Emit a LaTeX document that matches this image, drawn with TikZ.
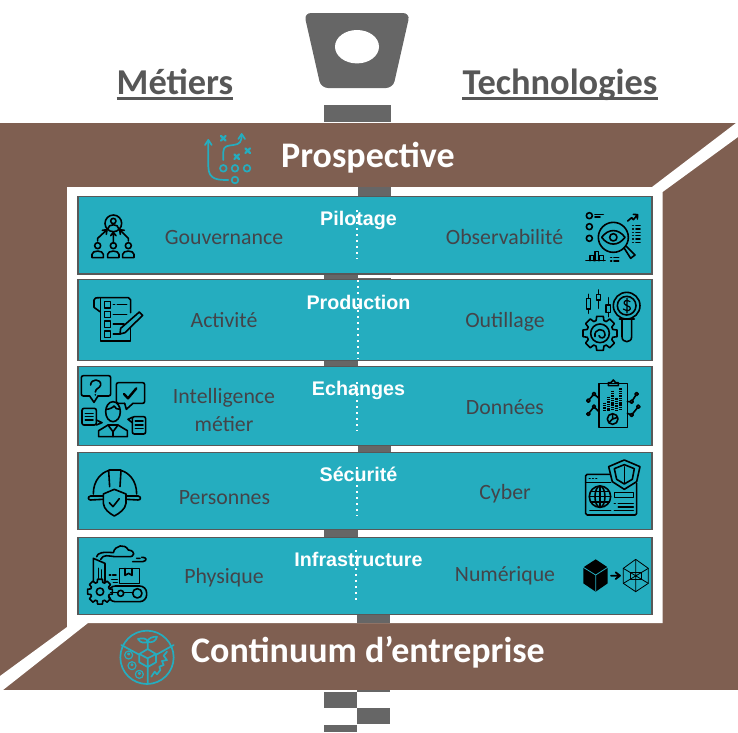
\documentclass[tikz,border=0pt]{standalone}
\usepackage{fontspec}
\setmainfont{Carlito}
\newfontfamily\headfont{Liberation Sans}
\definecolor{mybrown}{HTML}{7F5F51}
\definecolor{myteal}{HTML}{25ADBF}
\definecolor{mygrey}{HTML}{666666}
\definecolor{myedge}{HTML}{585858}
\definecolor{mytext}{HTML}{444449}
\tikzset{bar/.style={fill=mygrey}}
\tikzset{band/.style args={#1}{draw=myedge, line width=1.4pt, fill=myteal, minimum width=574pt, minimum height=#1pt, inner sep=0pt}}
\tikzset{dots/.style={white, line width=1.2pt, dash pattern=on 1.5pt off 4.5pt}}
\tikzset{side/.style={anchor=base, inner sep=0pt, text=mytext, font=\fontsize{21.8}{24}\selectfont}}
\tikzset{layer/.style={anchor=base, inner sep=0pt, text=white, font=\headfont\bfseries\fontsize{19.7}{22}\selectfont}}
\tikzset{axis/.style={anchor=base, inner sep=0pt, text=mygrey!85!black, font=\bfseries\fontsize{36.4}{40}\selectfont}}
\tikzset{banner/.style={anchor=base, inner sep=0pt, text=white, font=\bfseries\fontsize{36}{40}\selectfont}}
\tikzset{rulebar/.style={mygrey!85!black, line width=3pt}}
\tikzset{ink/.style={black, line width=1.6pt, line cap=round, line join=round}}
\tikzset{tealink/.style={myteal, line width=1.7pt, line cap=round, line join=round}}
% outline of a cog wheel: x, y, outer radius, root radius
\newcommand{\cogwheel}[4]{\draw[ink, shift={(#1,#2)}] (-11:#3) \foreach \a in {0,45,...,315} {-- ({\a-11}:#3) -- ({\a+11}:#3) -- ({\a+17}:#4) -- ({\a+28}:#4)} -- cycle;}

\begin{document}
\begin{tikzpicture}[x=1pt,y=-1pt]
\useasboundingbox (0,0) rectangle (738,732);
% frame
\fill[mybrown] (0,123) rectangle (738,690);
\fill[white] (67,187) -- (652,187) -- (736,123) -- (738,123) -- (738,137) -- (662.6,192) -- (662.6,623) -- (88,623) -- (3,690) -- (0,690) -- (0,676) -- (67,627) -- cycle;
% lamp and its broken beam
\fill[mygrey, rounded corners=7pt] (304,13) -- (410,13) -- (393,88) -- (321,88) -- cycle;
\fill[white] (357,46.7) ellipse [x radius=22pt, y radius=16.7pt];
\fill[bar] (324,105) rectangle (391,122);
\fill[bar] (358,187) rectangle (391,197);
\fill[bar] (324,274) rectangle (358,280);
\fill[bar] (358,277.5) rectangle (391,280);
\fill[bar] (324,360) rectangle (358,367);
\fill[bar] (358,445) rectangle (391,453);
\fill[bar] (324,529) rectangle (358,538);
\fill[bar] (357,614) rectangle (390,623);
\fill[bar] (357,690) rectangle (390,692);
\fill[bar] (324,692) rectangle (356.5,708);
\fill[bar] (357,708) rectangle (390,724);
\fill[bar] (324,725) rectangle (356.5,732);
% layers
\node[band={77.3}] (pilotage) at (365,235.3) {};
\node[band={81.4}] (production) at (365,320) {};
\node[band={78.6}] (echanges) at (365,406) {};
\node[band={76.6}] (securite) at (365,491) {};
\node[band={77}] (infra) at (365,575.8) {};
\draw[dots] (357,210) -- (357,259);
\draw[dots] (358,280) -- (358,359);
\draw[dots] (357,382) -- (357,431);
\draw[dots] (357,467) -- (357,516);
\draw[dots] (356,550) -- (356,601);
% texts
\node[axis] (metiers) at (175,94) {Métiers};
\node[axis] (techno) at (560,94) {Technologies};
\draw[rulebar] ([yshift=-4pt]metiers.base west) -- ([yshift=-4pt]metiers.base east);
\draw[rulebar] ([yshift=-4pt]techno.base west) -- ([yshift=-4pt]techno.base east);
\node[banner] (prospective) at (368,167) {Prospective};
\node[banner] (continuum) at (368,662) {Continuum d’entreprise};
\node[layer] (tpilotage) at (358.5,225.5) {Pilotage};
\node[layer] (tproduction) at (358.5,309.5) {Production};
\node[layer] (techanges) at (358.5,395.5) {Echanges};
\node[layer] (tsecurite) at (358.5,481.5) {Sécurité};
\node[layer] (tinfra) at (358.5,566.5) {Infrastructure};
\node[side] (gouv) at (224,244) {Gouvernance};
\node[side] (obs) at (504.5,244) {Observabilité};
\node[side] (activite) at (224,327) {Activité};
\node[side] (outillage) at (505,327) {Outillage};
\node[side] (intel) at (224,403) {Intelligence};
\node[side] (metier) at (224,431) {métier};
\node[side] (donnees) at (505,414) {Données};
\node[side] (personnes) at (224.5,504) {Personnes};
\node[side] (cyber) at (505,499.5) {Cyber};
\node[side] (physique) at (224,583.5) {Physique};
\node[side] (numerique) at (505,581) {Numérique};
% icon: play
\begin{scope}[shift={(195,125)},scale=0.3333]
\draw[tealink] (100,165) .. controls (70,165) and (40,165) .. (40,125) -- (40,45);
\draw[tealink] (30,60) -- (40,45) -- (50,60);
\draw[tealink] (85,105) -- (85,80) .. controls (85,62) and (100,62) .. (115,60) .. controls (135,58) and (140,50) .. (140,28);
\draw[tealink] (130,42) -- (140,27) -- (150,42);
\foreach \px/\py in {85/40,125/95,158/77} {
\draw[tealink, line width=2.2pt] (\px-7,\py-7) -- (\px+7,\py+7) (\px-7,\py+7) -- (\px+7,\py-7);
}
\foreach \px/\py in {85/130,120/130,156/130,120/165} {
\draw[tealink] (\px,\py) circle [radius=10pt];
}
\end{scope}
% icon: governance
\begin{scope}[shift={(85,205)},scale=0.3333]
\draw[ink] (85,55) circle [radius=25pt];
\draw[ink] (85,48) circle [radius=8pt];
\draw[ink] (68,72) .. controls (70,55) and (100,55) .. (102,72);
\draw[ink] (38,108) -- (38,100) -- (65,75) (52,76) -- (66,74) -- (64,88);
\draw[ink] (85,115) -- (85,82) (77,92) -- (85,82) -- (93,92);
\draw[ink] (130,108) -- (130,100) -- (105,75) (118,76) -- (104,74) -- (106,88);
\foreach \px in {38,85,130} {
\draw[ink] (\px,122) circle [radius=9pt];
\draw[ink] (\px-17,158) -- (\px-17,148) .. controls (\px-17,135) and (\px+17,135) .. (\px+17,148) -- (\px+17,158) -- cycle;
}
\end{scope}
% icon: observability
\begin{scope}[shift={(580,205)},scale=0.3333]
\foreach \py in {32,65,100} {
\draw[ink] (28,\py) circle [radius=9pt];
}
\draw[ink] (45,28) -- (70,28) (45,36) -- (60,36);
\draw[ink] (143,48) -- (155,38) -- (160,44) -- (172,30) (160,28) -- (173,29) -- (172,42);
\foreach \py in {62,72,82,92,102,112} {
\draw[ink] (158,\py) -- (160,\py) (168,\py) -- (180,\py);
}
\draw[ink] (100,97) circle [radius=45pt];
\draw[ink] (65,97) .. controls (85,70) and (115,70) .. (135,97) .. controls (115,124) and (85,124) .. cycle;
\draw[ink] (100,97) circle [radius=11pt];
\draw[ink] (133,130) -- (152,160) -- (165,150) -- (140,125);
\draw[ink] (18,167) -- (75,167) (30,167) -- (30,152) -- (42,152) -- (42,167) (45,167) -- (45,140) -- (56,140) -- (56,167) (58,167) -- (58,152) -- (70,152) -- (70,167);
\draw[ink] (92,158) -- (95,158) (102,158) -- (116,158) (92,168) -- (95,168) (102,168) -- (116,168);
\end{scope}
% icon: checklist
\begin{scope}[shift={(0,270)},scale=0.3333]
\draw[ink] (300,125) -- (282,112) -- (282,90) .. controls (282,84) and (288,83) .. (300,83) -- (385,83) -- (392,90) -- (392,128);
\draw[ink] (302,85) -- (302,213) -- (392,213) -- (392,172);
\foreach \py in {95,124,153,183} {
\draw[ink] (314,\py) rectangle (332,\py+19);
}
\draw[ink] (340,104) -- (344,104) (352,104) -- (380,104) (340,133) -- (380,133) (340,162) -- (372,162) (340,192) -- (360,192);
\draw[ink] (362,175) -- (418,126) -- (428,136) -- (375,188) -- (360,192) -- cycle;
\end{scope}
% icon: tools
\begin{scope}[shift={(575,285)},scale=0.3333]
\draw[ink] (40,28) -- (40,40) (40,72) -- (40,85) (34,40) rectangle (46,72);
\draw[ink] (70,15) -- (70,28) (70,45) -- (70,70) (64,28) rectangle (76,45);
\draw[ink] (100,38) -- (100,60) (100,82) -- (100,95) (93,60) rectangle (106,82);
\draw[ink] (155,62) circle [radius=40pt];
\draw[ink] (155,62) circle [radius=28pt];
\draw[ink, line width=1.2pt] (165,50) .. controls (155,42) and (145,48) .. (148,56) .. controls (152,64) and (168,62) .. (166,72) .. controls (162,80) and (150,78) .. (145,72) (156,40) -- (156,84);
\draw[ink] (133,102) -- (178,102) (141,102) -- (141,155) .. controls (141,175) and (170,175) .. (170,155) -- (170,102);
\cogwheel{75}{145}{52}{40}
\draw[ink] (75,145) circle [radius=28pt];
\draw[ink] (60,155) .. controls (55,130) and (90,125) .. (90,150) .. controls (90,160) and (75,162) .. (72,152);
\end{scope}
% icon: intelligence
\begin{scope}[shift={(78,370)},scale=0.3333]
\draw[ink, rounded corners=2pt] (35,78) -- (10,78) -- (10,17) -- (98,17) -- (98,78) -- (60,78);
\draw[ink] (35,78) -- (48,97) -- (60,78);
\draw[ink] (38,45) .. controls (38,25) and (70,25) .. (68,45) .. controls (66,55) and (52,55) .. (52,66) (52,74) -- (52,75);
\draw[ink, rounded corners=2pt] (140,100) -- (115,100) -- (115,38) -- (200,38) -- (200,100) -- (165,100);
\draw[ink] (140,100) -- (145,118) -- (165,100);
\draw[ink, line width=2.4pt] (138,72) -- (150,85) -- (175,55);
\draw[ink, rounded corners=2pt] (12,115) rectangle (55,165);
\draw[ink] (55,150) -- (72,158) -- (55,165);
\draw[ink] (22,130) -- (45,130) (22,140) -- (45,140) (22,150) -- (45,150);
\draw[ink, rounded corners=2pt] (163,140) rectangle (203,192);
\draw[ink] (163,142) -- (150,148) -- (163,158);
\draw[ink] (172,153) -- (195,153) (172,165) -- (195,165) (172,176) -- (195,176);
\draw[ink, fill=myteal] (105,125) ellipse [x radius=22pt, y radius=30pt];
\draw[ink] (84,118) .. controls (95,118) and (105,112) .. (108,108) .. controls (112,116) and (118,118) .. (126,118);
\draw[ink, fill=myteal] (62,200) -- (62,182) -- (90,165) -- (120,165) -- (148,182) -- (148,200) -- cycle;
\draw[ink] (90,165) -- (105,185) -- (120,165) (105,185) -- (105,200);
\end{scope}
% icon: data
\begin{scope}[shift={(370,270)},scale=0.3333]
\draw[ink] (687,340) rectangle (772,472);
\draw[ink] (715,347) -- (715,338) -- (723,338) -- (730,330) -- (737,338) -- (745,338) -- (745,347) -- cycle;
\foreach \px/\py in {703/398,715/380,727/362,739/385,751/355} {
\draw[ink, line width=2.4pt, line cap=butt, dash pattern=on 1.4pt off 0.9pt] (\px,\py) -- (\px,423);
}
\draw[ink] (728,447) circle [radius=16pt];
\draw[ink] (728,447) -- (728,432) (728,447) -- (743,442) (728,447) -- (716,458);
\draw[ink] (687,385) -- (672,372) -- (655,392) (687,425) -- (672,410) -- (655,432);
\draw[ink] (772,395) -- (785,395) -- (800,372) (772,430) -- (785,435) -- (805,410);
\foreach \px/\py in {672/372,655/392,672/410,655/432,785/395,800/372,785/435,805/410} {
\draw[ink, fill=myteal] (\px,\py) circle [radius=5pt];
}
\end{scope}
% icon: safety
\begin{scope}[shift={(0,270)},scale=0.3333]
\draw[ink] (280,672) .. controls (280,630) and (305,608) .. (325,602) -- (328,600) -- (362,600) -- (365,602) .. controls (385,608) and (410,630) .. (410,672);
\draw[ink] (326,602) -- (329,650) (363,602) -- (360,650);
\draw[ink] (310,678) -- (272,678) .. controls (262,680) and (264,690) .. (272,690) -- (308,688);
\draw[ink] (378,678) -- (414,678) .. controls (424,680) and (424,690) .. (414,690) -- (378,688);
\draw[ink] (343,658) -- (378,672) -- (378,700) .. controls (376,718) and (358,730) .. (343,738) .. controls (328,730) and (312,718) .. (310,700) -- (310,672) -- cycle;
\draw[ink] (328,698) -- (339,710) -- (358,686);
\end{scope}
% icon: cyber
\begin{scope}[shift={(370,270)},scale=0.3333]
\draw[ink, rounded corners=1.5pt] (722,613) -- (647,613) -- (647,735) -- (800,735) -- (800,640);
\draw[ink] (647,637) -- (722,637);
\draw[ink] (658,625) -- (660,625) (668,625) -- (670,625) (678,625) -- (680,625);
\draw[ink] (690,680) circle [radius=32pt];
\draw[ink] (690,680) ellipse [x radius=15pt, y radius=32pt];
\draw[ink] (658,680) -- (722,680) (662,664) -- (718,664) (662,696) -- (718,696) (690,648) -- (690,712);
\draw[ink, fill=myteal] (716,590) -- (763,570) -- (810,590) -- (800,635) -- (763,658) -- (727,635) -- cycle;
\draw[ink] (733,596) -- (763,584) -- (793,596) -- (787,628) -- (763,642) -- (740,628) -- cycle;
\draw[ink] (763,590) -- (763,640);
\draw[ink] (733,668) rectangle (790,682);
\draw[ink] (733,700) -- (736,700) (745,700) -- (790,700) (733,722) -- (790,722) (660,722) -- (722,722) (745,711) -- (790,711);
\end{scope}
% icon: factory
\begin{scope}[shift={(80,540)},scale=0.3333]
\draw[ink] (40,125) -- (40,55) -- (75,70) -- (75,125);
\draw[ink] (55,85) -- (55,115) (65,90) -- (65,115);
\draw[ink] (50,50) .. controls (52,38) and (70,35) .. (100,38) .. controls (105,15) and (135,10) .. (145,30) .. controls (168,32) and (165,52) .. (145,50) -- (105,50) .. controls (85,48) and (70,42) .. (62,58);
\draw[ink] (158,65) -- (188,65) .. controls (205,62) and (198,50) .. (185,52) (170,55) -- (180,55);
\draw[ink] (118,85) rectangle (178,130);
\draw[ink] (135,85) -- (135,106) -- (146,100) -- (156,106) -- (156,85);
\draw[ink] (88,105) -- (92,105) (98,105) -- (108,105) (95,118) -- (112,118) (100,128) -- (112,128);
\draw[ink, rounded corners=7pt] (85,138) rectangle (200,185);
\draw[ink] (122,160) circle [radius=9pt];
\draw[ink] (172,160) circle [radius=14pt];
\draw[ink] (88,158) -- (112,158) (132,158) -- (158,158);
\fill[myteal] (60,155) circle [radius=30pt];
\cogwheel{60}{155}{38}{29}
\draw[ink] (60,155) circle [radius=11pt];
\end{scope}
% icon: cube to wireframe
\begin{scope}[shift={(575,550)},scale=0.3333]
\fill[black] (62,28) -- (98,52) -- (98,100) -- (62,125) -- (25,100) -- (25,52) -- cycle;
\draw[myteal, line width=0.8pt] (25,52) -- (62,75) -- (98,52) (62,75) -- (62,124);
\draw[ink, line width=1.8pt] (108,77) -- (130,77) (122,67) -- (135,77) -- (122,87);
\draw[ink, line width=0.8pt] (182,28) -- (220,55) -- (220,100) -- (182,125) -- (145,100) -- (145,55) -- cycle;
\draw[ink, line width=0.8pt] (182,28) -- (182,125) (145,55) -- (220,100) (220,55) -- (145,100);
\draw[ink, line width=0.8pt] (165,66) -- (200,66) -- (200,88) -- (165,88) -- cycle;
\end{scope}
% icon: continuum
\begin{scope}[shift={(112,625)},scale=0.3333]
\draw[tealink] (105,97) circle [radius=80pt];
\draw[tealink] (107,120) -- (107,177) (28,60) -- (80,88) (185,60) -- (135,88);
\draw[tealink] (107,72) -- (132,87) -- (132,112) -- (107,126) -- (82,112) -- (82,87) -- cycle;
\draw[tealink] (82,87) -- (107,100) -- (132,87) (107,100) -- (107,126);
\draw[tealink] (107,72) -- (107,50) .. controls (100,55) and (85,55) .. (78,42) .. controls (92,38) and (105,40) .. (107,50) .. controls (110,38) and (122,35) .. (135,35) .. controls (132,48) and (120,55) .. (107,50);
\foreach \px/\py in {50/90,60/122,82/148} {
\draw[tealink, line width=1.2pt] (\px,\py) circle [radius=12pt];
\draw[tealink, line width=1.2pt] (\px,\py-3) circle [radius=3pt];
}
\draw[tealink] (118,155) -- (128,140) -- (135,148) -- (145,135) -- (142,125) -- (155,120) -- (150,108) -- (165,105) -- (155,92) -- (165,80);
\end{scope}
\end{tikzpicture}
\end{document}
